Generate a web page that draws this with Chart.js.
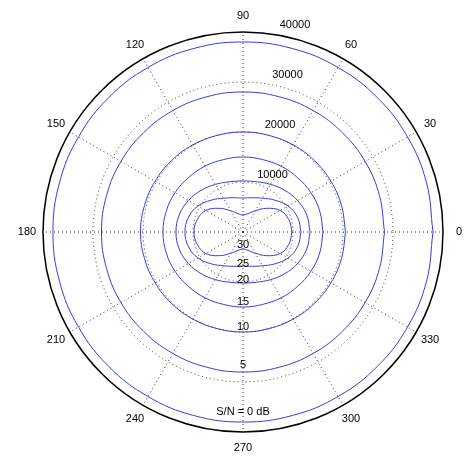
<!DOCTYPE html>
<html><head><meta charset="utf-8">
<script src="https://cdn.jsdelivr.net/npm/chart.js"></script>
<style>body{margin:0;background:#fff}</style>
</head><body>
<canvas id="c" width="474" height="470"></canvas>
<script>
// angles (deg) where radii were read, first quadrant; the curves are symmetric
const angles = [0, 15, 30, 45, 60, 75, 90];
const snLabels = ['S/N = 0 dB', '5', '10', '15', '20', '25', '30'];
const r0 = [38000, 38000, 38000, 38000, 38000, 38000, 38000];
const r5 = [28300, 28250, 28200, 28100, 28050, 28000, 28000];
const r10 = [20500, 20400, 20300, 20200, 20100, 20000, 20000];
const r15 = [16000, 15900, 15700, 15400, 15200, 15000, 15000];
const r20 = [13400, 13200, 12600, 11800, 11000, 10400, 10200];
const r25 = [11600, 11300, 10400, 9000, 7800, 7100, 6800];
const r30 = [9800, 9500, 8600, 6700, 4900, 3800, 3400];
const curves = [r0, r5, r10, r15, r20, r25, r30];
// where each S/N label sits along the 270 deg spoke
const labelRadii = [36000, 26500, 19000, 14000, 9500, 6400, 2600];
const ringValues = [10000, 20000, 30000, 40000];
const ringLabels = ['10000', '20000', '30000', '40000'];
const spokeAngles = [0, 30, 60, 90, 120, 150, 180, 210, 240, 270, 300, 330];
const rMax = 40000;

// mirror the first-quadrant readings around the full circle
function toPoints(radii) {
  const n = angles.length - 1;
  const pts = [];
  for (let q = 0; q < 4; q++) {
    for (let i = 0; i < n; i++) {
      const src = (q % 2 === 0) ? radii[i] : radii[n - i];
      const t = (q * 90 + angles[i]) * Math.PI / 180;
      pts.push({ x: src * Math.cos(t), y: src * Math.sin(t) });
    }
  }
  pts.push(pts[0]);
  return pts;
}

const polarGrid = {
  id: 'polarGrid',
  beforeDatasetsDraw(chart) {
    const { ctx, scales: { x, y } } = chart;
    const cx = x.getPixelForValue(0), cy = y.getPixelForValue(0);
    const pr = v => x.getPixelForValue(v) - cx;
    ctx.save();
    ctx.strokeStyle = '#333';
    ctx.lineWidth = 1;
    ctx.setLineDash([1, 3]);
    ringValues.slice(0, -1).forEach(v => {
      ctx.beginPath(); ctx.arc(cx, cy, pr(v), 0, Math.PI * 2); ctx.stroke();
    });
    spokeAngles.forEach(a => {
      const t = a * Math.PI / 180;
      ctx.beginPath(); ctx.moveTo(cx, cy);
      ctx.lineTo(cx + pr(rMax) * Math.cos(t), cy - pr(rMax) * Math.sin(t));
      ctx.stroke();
    });
    ctx.setLineDash([]);
    ctx.lineWidth = 1.5;
    ctx.strokeStyle = '#000';
    ctx.beginPath(); ctx.arc(cx, cy, pr(rMax), 0, Math.PI * 2); ctx.stroke();
    ctx.restore();
  },
  afterDatasetsDraw(chart) {
    const { ctx, scales: { x, y } } = chart;
    const cx = x.getPixelForValue(0), cy = y.getPixelForValue(0);
    const pr = v => x.getPixelForValue(v) - cx;
    ctx.save();
    ctx.fillStyle = '#000';
    ctx.font = '11px "Liberation Sans", Arial, sans-serif';
    ctx.textAlign = 'center';
    ctx.textBaseline = 'middle';
    spokeAngles.forEach(a => {
      const t = a * Math.PI / 180, rr = pr(rMax) + 16;
      ctx.fillText(String(a), cx + rr * Math.cos(t), cy - rr * Math.sin(t));
    });
    ringValues.forEach((v, i) => {
      const rr = pr(v);
      ctx.fillText(ringLabels[i], cx + 22 + rr * 0.15, cy - rr - 7);
    });
    snLabels.forEach((s, i) => {
      ctx.fillText(s, cx, cy + pr(labelRadii[i]));
    });
    ctx.restore();
  }
};

new Chart(document.getElementById('c'), {
  type: 'scatter',
  data: {
    datasets: curves.map((r, i) => ({
      label: snLabels[i],
      data: toPoints(r),
      showLine: true,
      tension: 0.4,
      borderColor: '#3a3ae0',
      borderWidth: 1,
      pointRadius: 0,
      fill: false
    }))
  },
  options: {
    responsive: false,
    animation: false,
    layout: { padding: { left: 43, right: 31, top: 32, bottom: 38 } },
    plugins: { legend: { display: false }, tooltip: { enabled: false } },
    scales: {
      x: { type: 'linear', min: -rMax, max: rMax, display: false },
      y: { type: 'linear', min: -rMax, max: rMax, display: false }
    }
  },
  plugins: [polarGrid]
});
</script>
</body></html>
